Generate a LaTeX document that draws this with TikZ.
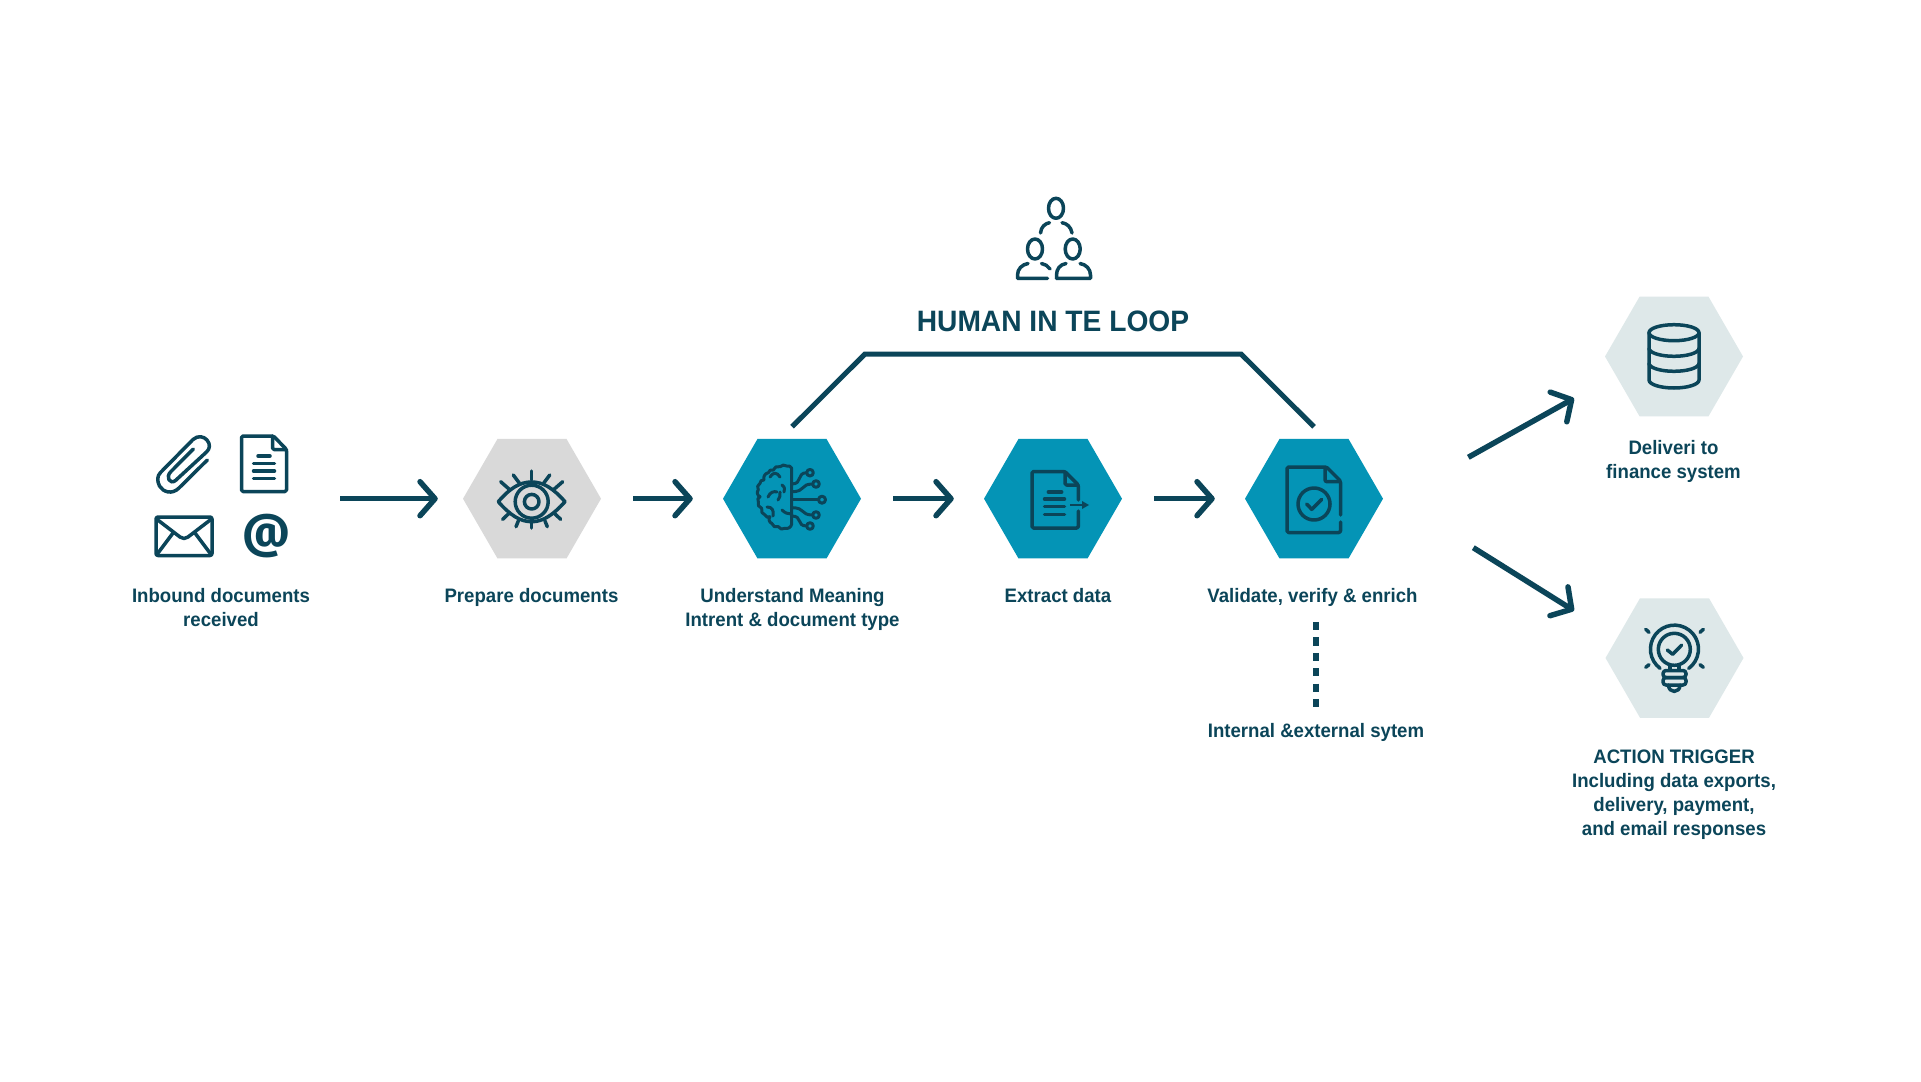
\documentclass[tikz,border=0pt]{standalone}
\usepackage{fontspec}
\setmainfont[FakeStretch=0.955]{Liberation Sans}
\newfontfamily\atfont{Fira Sans}
\usetikzlibrary{arrows.meta,shapes.geometric}
\definecolor{darkteal}{HTML}{0B4559}
\definecolor{deepteal}{HTML}{0494B6}
\definecolor{hexgrey}{HTML}{D9D9D9}
\definecolor{hexpale}{HTML}{DEE8E9}
\tikzset{
	hexa/.style={regular polygon, regular polygon sides=6, minimum size=138pt, inner sep=0pt},
	labeltext/.style={font=\bfseries\fontsize{19.5}{24}\selectfont, text=darkteal, align=center, inner sep=0pt, anchor=base},
	icon/.style={draw=darkteal, line width=3.5pt, line cap=round, line join=round},
	brainline/.style={icon, line width=3pt},
	flowline/.style={draw=darkteal, line width=5.5pt, -{Straight Barb[length=15pt,width=34pt,round]}},
	loopline/.style={draw=darkteal, line width=5pt}
}

\begin{document}
\begin{tikzpicture}[x=1pt,y=-1pt]
		\useasboundingbox (0, 0) rectangle (1921, 1081);
		\fill[white] (0, 0) rectangle (1921, 1081);
		
		%%%%% HEXAGONS %%%%%
		
		\node[hexa, fill=hexgrey] (prepare) at (532, 498.7) {};
		\node[hexa, fill=deepteal] (brain) at (792, 498.7) {};
		\node[hexa, fill=deepteal] (extract) at (1053, 498.7) {};
		\node[hexa, fill=deepteal] (validate) at (1314, 498.7) {};
		\node[hexa, fill=hexpale] (finance) at (1674, 356.5) {};
		\node[hexa, fill=hexpale] (trigger) at (1674.5, 658) {};
		
		%%%%% LABELS %%%%%
		
		\node[labeltext] (inboundlabel) at (221, 626.7) {Inbound documents\\received};
		\node[labeltext] (preparelabel) at (531.5, 602.7) {Prepare documents};
		\node[labeltext] (brainlabel) at (792.5, 626.7) {Understand Meaning\\Intrent \& document type};
		\node[labeltext] (extractlabel) at (1058, 602.7) {Extract data};
		\node[labeltext] (validatelabel) at (1312.5, 602.7) {Validate, verify \& enrich};
		\node[labeltext] (systemlabel) at (1316, 737.7) {Internal \&external sytem};
		\node[labeltext] (financelabel) at (1673.5, 478.4) {Deliveri to\\finance system};
		\node[labeltext] (triggerlabel) at (1674, 835) {ACTION TRIGGER\\Including data exports,\\delivery, payment,\\and email responses};
		\node[labeltext, font=\bfseries\fontsize{29.5}{34}\selectfont] (humanlabel) at (1053, 331) {HUMAN IN TE LOOP};
		
		%%%%% CONNECTORS %%%%%
		
		\coordinate (inboundend) at (340, 498.7);
		\coordinate (upstart) at (1468.3, 457.3);
		\coordinate (upend) at (1574, 398.3);
		\coordinate (downstart) at (1473.3, 547.7);
		\coordinate (downend) at (1574, 610.7);
		\coordinate (loopleft) at (865, 354);
		\coordinate (loopright) at (1241, 354);
		
		\draw[flowline, shorten >=25pt] (inboundend) -- (prepare.west);
		\draw[flowline, shorten <=32pt, shorten >=30pt] (prepare.east) -- (brain.west);
		\draw[flowline, shorten <=32pt, shorten >=30pt] (brain.east) -- (extract.west);
		\draw[flowline, shorten <=32pt, shorten >=30pt] (extract.east) -- (validate.west);
		\draw[flowline] (upstart) -- (upend);
		\draw[flowline] (downstart) -- (downend);
		\draw[loopline] ([yshift=12pt]brain.north) -- (loopleft) -- (loopright) -- ([yshift=12pt]validate.north);
		\draw[draw=darkteal, line width=5.3pt, dash pattern=on 8.3pt off 7.1pt, shorten <=15pt, shorten >=15pt] (validatelabel.south -| systemlabel.north) -- (systemlabel.north);
		
		%%%%% INBOUND ICONS %%%%%
		
		% paper clip
		\draw[icon] (207.3, 460) -- (179, 488) .. controls (172, 495) and (163, 492) .. (159.5, 486)
			.. controls (157, 481) and (157, 476) .. (160.5, 472.5) -- (193, 439.5)
			.. controls (198, 435) and (204, 436.5) .. (207, 440) .. controls (210.5, 444) and (210, 449) .. (206.5, 452)
			-- (175.5, 480.5) .. controls (170, 485) and (165, 477) .. (171, 471.5) -- (193.3, 449);
		
		% page
		\draw[icon, rounded corners=1.5pt] (273.5, 436) -- (241.5, 436) -- (241.5, 491.5) -- (286.5, 491.5) -- (286.5, 449.5) -- cycle;
		\draw[icon, rounded corners=1.5pt] (272.5, 436) -- (272.5, 449.5) -- (286.5, 449.5);
		\draw[icon] (258, 456) -- (270, 456);
		\foreach \liney in {463.3, 471, 478.3}
			\draw[icon] (253.5, \liney) -- (274.5, \liney);
		
		% envelope
		\draw[icon, rounded corners=2pt] (156, 517) rectangle (212, 555.5);
		\draw[icon] (156.5, 519) -- (180, 537) -- (184, 538.5) -- (188, 537) -- (211.5, 519);
		\draw[icon] (158, 553) -- (173, 533);
		\draw[icon] (210, 553) -- (195, 533);
		
		% at sign
		\node[font=\atfont\bfseries\fontsize{47}{47}\selectfont, text=darkteal, inner sep=0pt] (atsign) at (266.7, 536) {@};
		
		%%%%% EYE %%%%%
		
		\draw[icon] (498.3, 501.7) .. controls (510, 488) and (520, 482) .. (531.7, 482) .. controls (543, 482) and (553, 488) .. (565, 501.7)
			.. controls (553, 515) and (543, 521.7) .. (531.7, 521.7) .. controls (520, 521.7) and (510, 515) .. cycle;
		\draw[icon] (531.7, 501.7) circle (16.5);
		\draw[icon] (531.7, 501.7) circle (7.3);
		\draw[icon] (531.7, 471) -- (531.7, 480);
		\draw[icon] (513.3, 475) -- (519.3, 483);
		\draw[icon] (549.8, 475) -- (543.8, 483);
		\draw[icon] (500.7, 481.7) -- (509.3, 489.3);
		\draw[icon] (562.7, 481.7) -- (554, 489.3);
		\draw[icon] (531.7, 522) -- (531.7, 528);
		\draw[icon] (518.3, 521) -- (516, 526.7);
		\draw[icon] (545, 521) -- (547.3, 526.7);
		\draw[icon] (508.3, 514) -- (502.7, 519.3);
		\draw[icon] (555, 514) -- (560.7, 519.3);
		
		%%%%% BRAIN %%%%%
		
		\draw[brainline] (791.7, 524) -- (791.7, 468.3) to[bend right=40] (786.7, 466) to[bend right=40] (780, 466.7)
			to[bend right=50] (773.3, 470) to[bend right=50] (768.3, 472.7) to[bend right=50] (764, 480) to[bend right=60] (760, 483.3)
			to[bend right=50] (758.3, 490) to[bend right=60] (760, 496.7) to[bend right=60] (758.3, 501.7) to[bend right=50] (761.7, 508.3)
			to[bend right=50] (765, 515) to[bend right=60] (770, 516.7) to[bend right=60] (771.7, 523.3) to[bend right=50] (778.3, 526.7)
			to[bend right=50] (785, 528.3) to[bend right=50] (791.7, 524);
		\draw[brainline] (770, 477) .. controls (773, 472) and (777, 472) .. (780, 477);
		\draw[brainline] (782, 485) .. controls (785, 487) and (785, 490) .. (784, 492);
		\draw[brainline] (768, 497) .. controls (770, 492) and (774, 491) .. (777, 492);
		\draw[brainline] (780, 492) .. controls (780, 496) and (780, 498) .. (778, 500);
		\draw[brainline] (767, 507) .. controls (772, 507) and (774, 510) .. (773, 516);
		\draw[brainline] (782, 510) .. controls (785, 513) and (788, 514) .. (791, 514);
		\draw[brainline] (818.5, 499.7) -- (791.7, 499.7);
		\draw[brainline] (791.7, 484) .. controls (803, 484) and (796, 473) .. (806.7, 472.7);
		\draw[brainline] (791.7, 491.7) .. controls (806, 491.7) and (800, 484) .. (812.7, 484);
		\draw[brainline] (791.7, 507.7) .. controls (806, 507.7) and (800, 515) .. (812.7, 515);
		\draw[brainline] (791.7, 516) .. controls (803, 516) and (796, 526) .. (806.7, 526);
		\draw[brainline] (810, 472.7) circle (3.3);
		\draw[brainline] (816, 484) circle (3.3);
		\draw[brainline] (822, 499.7) circle (3.5);
		\draw[brainline] (816, 515) circle (3.3);
		\draw[brainline] (810, 526) circle (3.3);
		
		%%%%% EXTRACT %%%%%
		
		\draw[icon, rounded corners=1.5pt] (1078.3, 500) -- (1078.3, 485) -- (1065, 471.5) -- (1032, 471.5) -- (1032, 528) -- (1078.3, 528) -- (1078.3, 511);
		\draw[icon, rounded corners=1.5pt] (1065, 472) -- (1065, 485) -- (1078, 485);
		\draw[icon] (1048.3, 492) -- (1061.7, 492);
		\foreach \liney in {499, 506.7, 514.3}
			\draw[icon] (1044.5, \liney) -- (1064.5, \liney);
		\draw[icon, line width=2.8pt, line cap=butt] (1070, 505) -- (1083, 505);
		\fill[darkteal] (1089, 505) -- (1082, 501) -- (1082, 509) -- cycle;
		
		%%%%% VALIDATE %%%%%
		
		\draw[icon, rounded corners=1.5pt] (1340.5, 515) -- (1340.5, 481) -- (1326.5, 467) -- (1287, 467) -- (1287, 532.5) -- (1340.5, 532.5) -- (1340.5, 522);
		\draw[icon, rounded corners=2pt] (1325, 468) -- (1325, 481.7) -- (1340, 481.7);
		\draw[icon] (1314, 504) circle (16);
		\draw[icon] (1306.7, 504) -- (1311.7, 509.3) -- (1321.7, 499.3);
		
		%%%%% PEOPLE %%%%%
		
		\draw[icon] (1056, 208.3) ellipse (7.5 and 10);
		\draw[icon] (1040.5, 233) .. controls (1041, 227) and (1045, 223.5) .. (1049.5, 222.7);
		\draw[icon] (1062, 222.7) .. controls (1067, 223.5) and (1071, 227) .. (1072, 233);
		\draw[icon] (1035, 249) ellipse (7.5 and 10);
		\draw[icon] (1072.7, 249) ellipse (7.5 and 10);
		\draw[icon] (1047.5, 278.3) -- (1017.5, 278.3) -- (1017.5, 275) .. controls (1017.5, 269) and (1022, 264.5) .. (1028, 263.5);
		\draw[icon] (1041.5, 263.5) .. controls (1045, 264) and (1048, 266) .. (1050, 269);
		\draw[icon] (1056.5, 278.3) -- (1090.5, 278.3) -- (1090.5, 275) .. controls (1090.5, 269) and (1086, 264.5) .. (1080, 263.5);
		\draw[icon] (1066, 263.5) .. controls (1060, 264.5) and (1056.5, 269) .. (1056.5, 275) -- (1056.5, 278.3);
		
		%%%%% DATABASE %%%%%
		
		\draw[icon] (1674, 332.7) ellipse (25 and 8);
		\draw[icon] (1649, 332.7) -- (1649, 380) arc (180:0:25 and 8) -- (1699, 332.7);
		\draw[icon] (1649, 348.3) arc (180:0:25 and 8);
		\draw[icon] (1649, 363.3) arc (180:0:25 and 8);
		
		%%%%% BULB %%%%%
		
		\draw[icon] (1660, 668.3) arc (127:413.6:24);
		\draw[icon] (1674.3, 649.3) circle (16);
		\draw[icon] (1667.3, 650) -- (1672.7, 654.3) -- (1681.7, 645);
		\draw[icon] (1670, 665) -- (1670, 670);
		\draw[icon] (1679, 665) -- (1679, 670);
		\draw[icon, rounded corners=3pt] (1663, 670.5) rectangle (1686, 677.5);
		\draw[icon, rounded corners=3pt] (1663, 677.5) rectangle (1686, 685);
		\draw[icon] (1668.5, 685) .. controls (1668.5, 693.5) and (1680, 693.5) .. (1680, 685);
		\draw[icon] (1645.7, 629.3) -- (1649, 632.3);
		\draw[icon] (1703.3, 629.3) -- (1700, 632.3);
		\draw[icon] (1645.7, 667.3) -- (1649, 664.7);
		\draw[icon] (1703.3, 667.3) -- (1700, 664.7);
		
		%%%%% END %%%%%
	\end{tikzpicture}
\end{document}
